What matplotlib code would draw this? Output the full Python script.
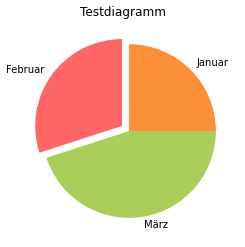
import matplotlib
matplotlib.use("Agg")
import matplotlib.pyplot as plt

labels = ["Januar", "Februar", "März"]
values = [25, 30, 45]
colors = ["#fb9038", "#ff6666", "#a9cf5a"]
explode = [0, 0.1, 0]

fig = plt.figure(figsize=(245 / 72, 247 / 72), dpi=72)
ax = fig.add_axes([0.0837, 0.030, 0.886, 0.879])
ax.pie(values, labels=labels, colors=colors, explode=explode, startangle=0,
       textprops={"fontsize": 10})
ax.set_xlim(-1.25, 1.25)
ax.set_ylim(-1.25, 1.25)
ax.set_aspect("equal")
fig.suptitle("Testdiagramm", fontsize=12, y=0.975)
fig.savefig("out.png", dpi=72)
